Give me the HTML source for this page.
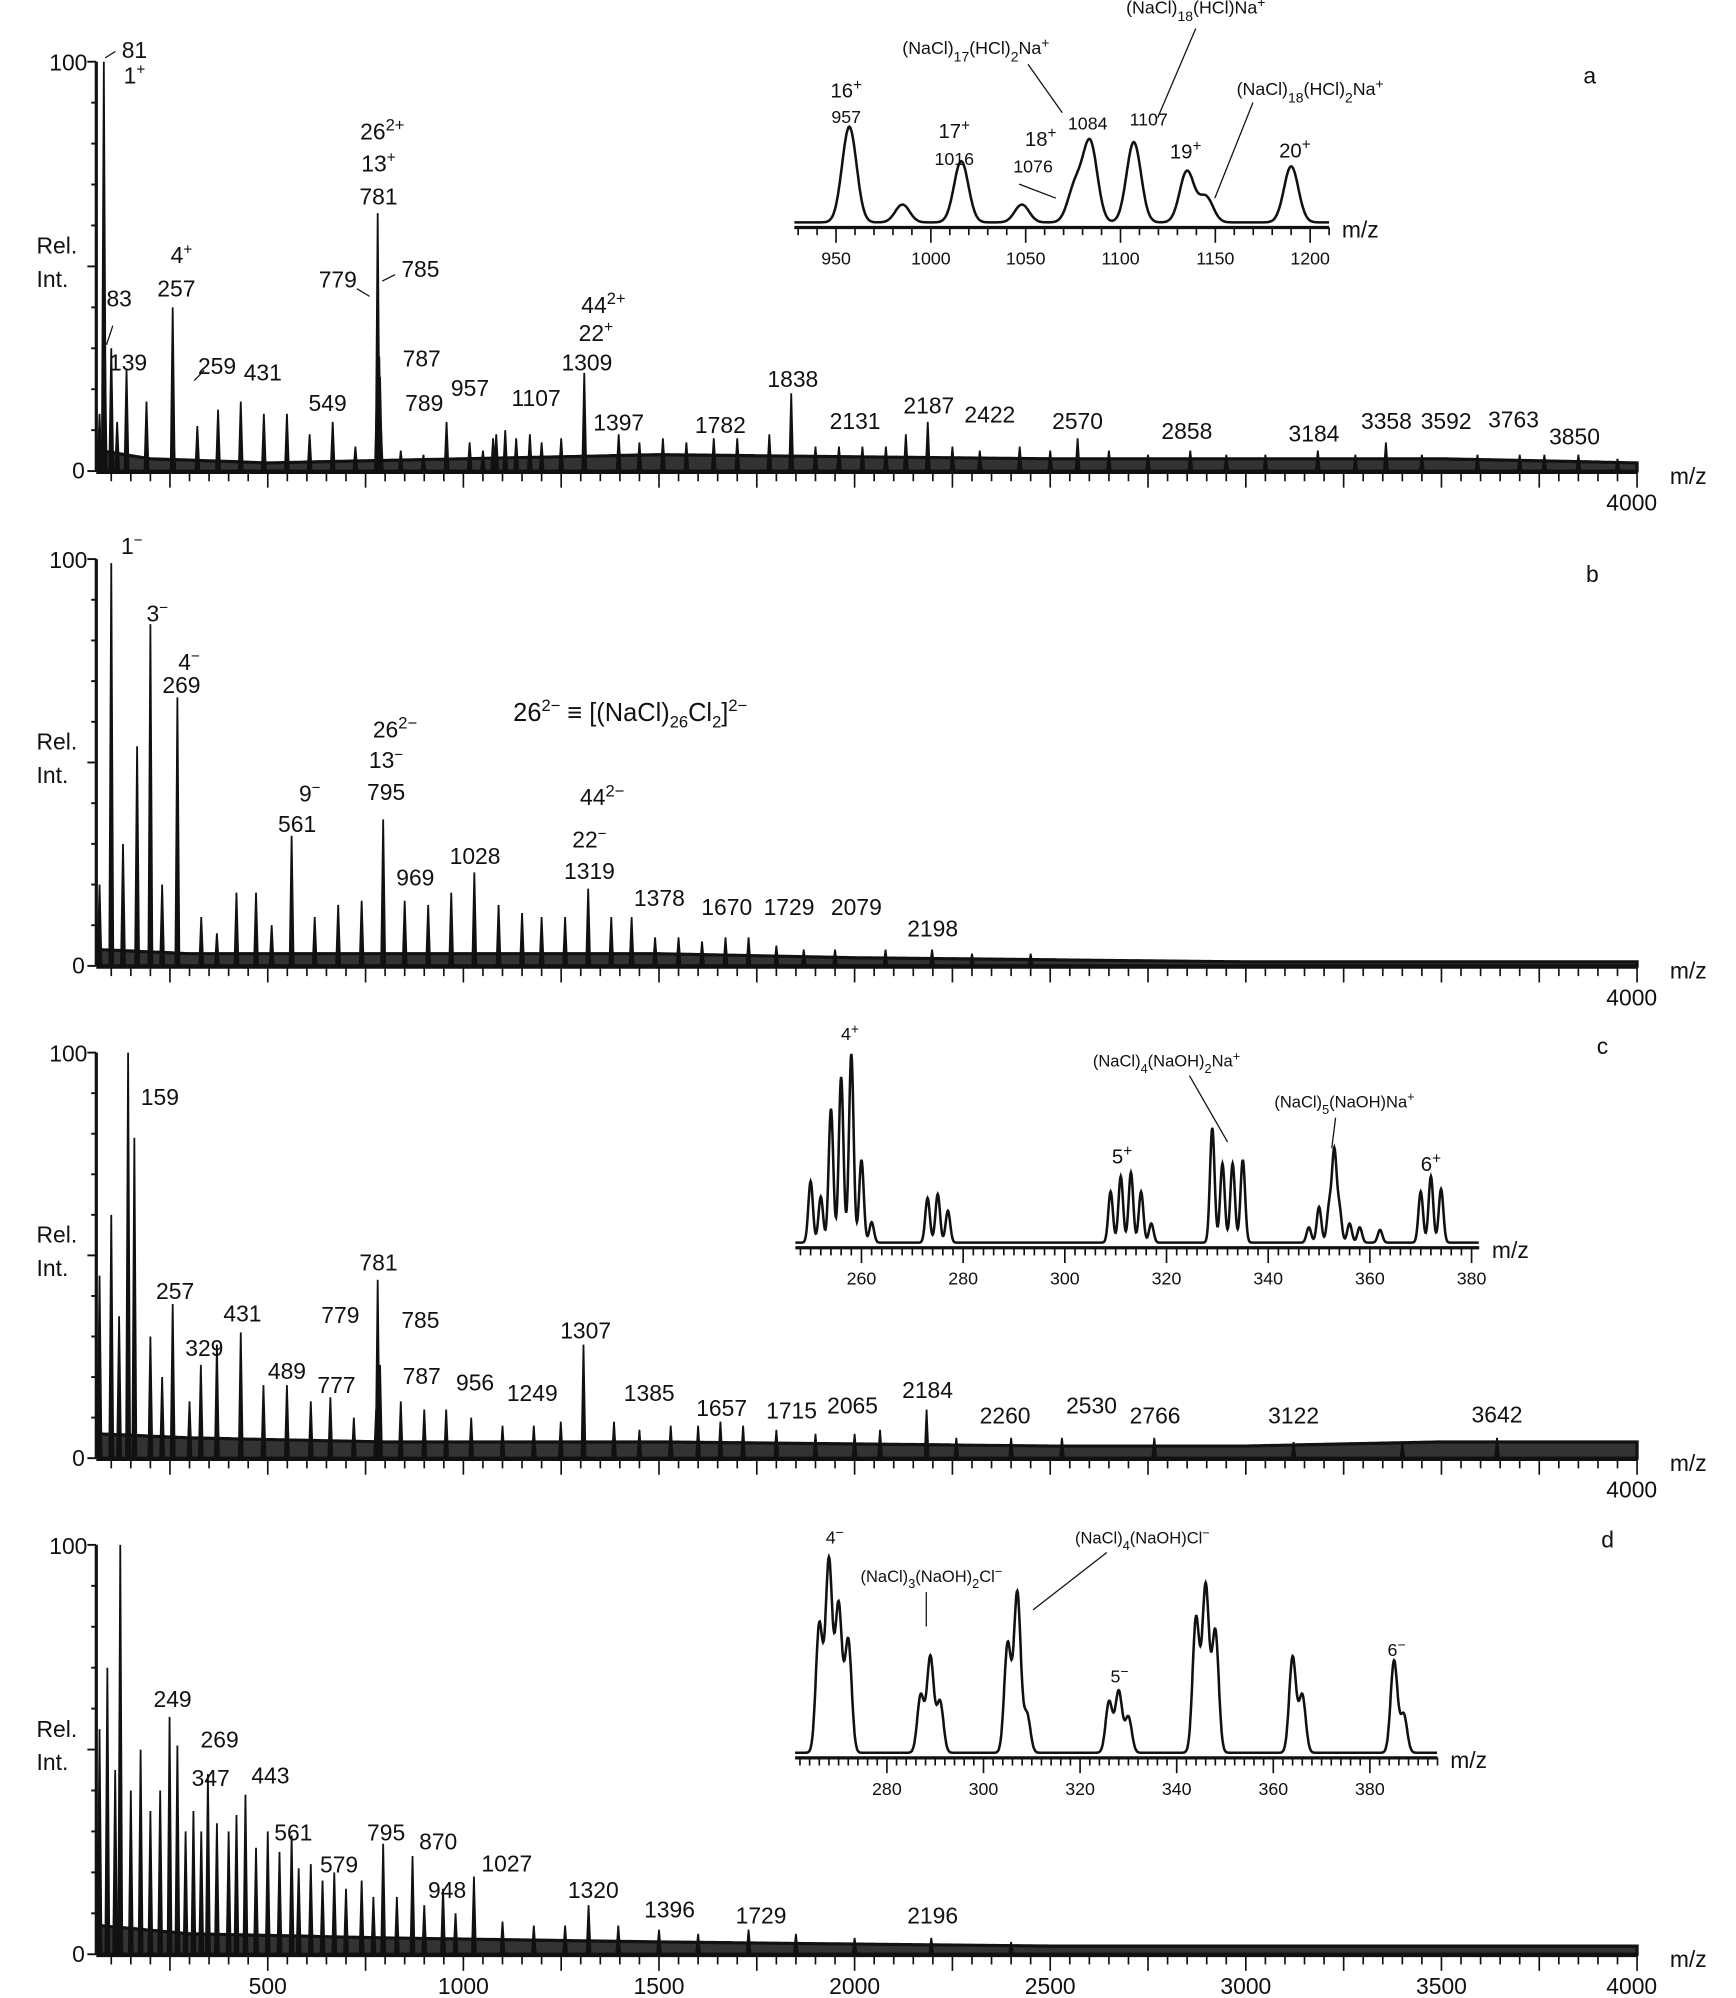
<!DOCTYPE html>
<html><head><meta charset="utf-8"><style>
html,body{margin:0;padding:0;background:#fff;}
svg{display:block;}
text{font-family:"Liberation Sans",Arial,sans-serif;fill:#111;}
</style></head><body>
<svg width="1736" height="1998" viewBox="0 0 1350 1554" xmlns="http://www.w3.org/2000/svg"><g id="chart" transform="translate(56,48) scale(0.9886,0.9919) translate(-56,-48)"></g></svg>
<script>
// ---- Panel a (positive) main spectrum ----
const aMz  = [70,81,83,100,115,139,190,257,259,320,373,431,490,549,607,666,724,779,781,785,787,789,840,898,957,1016,1050,1076,1084,1107,1135,1170,1200,1250,1309,1397,1450,1510,1570,1640,1700,1782,1838,1900,1960,2020,2080,2131,2187,2250,2320,2422,2500,2570,2650,2750,2858,2950,3050,3184,3280,3358,3450,3592,3700,3763,3850,3950];
const aInt = [14,100,37,30,12,25,17,40,8,11,15,17,14,14,9,12,6,20,63,28,23,12,5,4,12,7,5,8,9,10,8,9,7,8,24,9,7,8,7,8,8,9,19,6,6,6,6,9,12,6,5,6,5,8,5,4,5,4,4,5,4,7,4,4,4,4,4,3];
const aBaseMz  = [70,200,500,1000,1500,2000,2500,3000,3500,4000];
const aBaseInt = [5,3,2,3,4,3.5,3,3,3,2];
// ---- Panel b (negative) ----
const bMz  = [70,100,130,166,200,230,269,330,370,420,470,510,561,620,680,740,795,850,910,969,1028,1090,1150,1200,1260,1319,1378,1430,1490,1550,1610,1670,1729,1800,1870,1950,2079,2198,2300,2450];
const bInt = [20,99,30,54,84,20,66,12,8,18,18,10,32,12,15,16,36,16,15,18,23,15,13,12,12,19,12,12,7,7,6,7,7,5,4,4,4,4,3,3];
const bBaseMz  = [70,300,800,1500,2000,2500,3000,3500,4000];
const bBaseInt = [4,3,3,3,2,1.5,1,1,1];
// ---- Panel c (positive) ----
const cMz  = [70,100,120,143,159,200,230,257,300,329,370,431,489,549,610,660,720,777,781,785,787,840,900,956,1020,1100,1180,1249,1307,1385,1450,1530,1600,1657,1715,1800,1900,2000,2065,2184,2260,2400,2530,2766,3122,3400,3642];
const cInt = [45,60,35,100,79,30,20,38,14,23,28,31,18,18,14,15,10,12,44,20,23,14,12,12,10,8,8,9,28,9,7,8,8,9,8,7,6,6,7,12,5,5,5,5,4,4,5];
const cBaseMz  = [70,300,800,1500,2000,2500,3000,3500,4000];
const cBaseInt = [6,5,4,4,3.5,3,3,4,4];
// ---- Panel d (negative) ----
const dMz  = [70,90,110,123,150,175,200,225,249,269,290,310,330,347,370,400,420,443,470,500,530,561,579,610,640,670,700,740,770,795,830,870,900,948,980,1027,1100,1180,1260,1320,1396,1500,1600,1729,1850,2000,2196,2400];
const dInt = [55,70,45,100,40,50,35,40,58,51,30,35,30,44,32,30,34,39,26,30,25,29,21,22,18,20,16,18,14,27,14,24,12,16,10,19,8,7,7,12,7,6,5,6,5,4,4,3];
const dBaseMz  = [70,300,800,1500,2000,2500,3000,3500,4000];
const dBaseInt = [7,5,4,3,2.5,2,2,2,2];
// ---- Inset a (broad peaks) ----
const iaMz  = [957,985,1016,1048,1076,1084,1107,1135,1145,1190];
const iaInt = [75,14,48,14,28,62,63,40,20,44];
// ---- Inset c ----
const icMz  = [250,252,254,256,258,260,262,273,275,277,309,311,313,315,317,329,331,333,335,348,350,352,353,354,356,358,362,370,372,374];
const icInt = [48,36,105,130,148,65,16,35,38,25,40,52,55,40,15,90,62,62,65,12,28,28,70,26,15,12,10,40,52,42];
// ---- Inset d ----
const idMz  = [266,268,270,272,287,289,291,305,307,309,326,328,330,344,346,348,364,366,385,387];
const idInt = [100,150,115,88,45,75,40,85,125,30,40,48,28,105,130,95,75,45,72,30];

const SVGNS="http://www.w3.org/2000/svg";
const svg=document.getElementById('chart');
function el(tag,attrs,parent){const e=document.createElementNS(SVGNS,tag);for(const k in attrs)e.setAttribute(k,attrs[k]);(parent||svg).appendChild(e);return e;}
function txt(x,y,s,size,anchor,name,parent){const t=el('text',{x:x,y:y,'font-size':size||18,'text-anchor':anchor||'middle'},parent);t.innerHTML=s;


return t;}
function line(x1,y1,x2,y2,w,parent){return el('line',{x1:x1,y1:y1,x2:x2,y2:y2,stroke:'#111','stroke-width':w||1},parent);}
const xOf=mz=>56+mz*0.3078;

function interp(xs,ys,x){if(x<=xs[0])return ys[0];for(let i=1;i<xs.length;i++){if(x<=xs[i]){const t=(x-xs[i-1])/(xs[i]-xs[i-1]);return ys[i-1]+t*(ys[i]-ys[i-1]);}}return ys[ys.length-1];}

function panel(id,y0,y100,mz,inten,bmz,bint,xLabels){
  const g=el('g',{});
  
  
  const yOf=v=>y0-v/100*(y0-y100);
  const ya=line(75,y100,75,y0,2.5,g);
  
  
  for(let v=0;v<=100;v+=10){line(v%50===0?68:71,yOf(v),75,yOf(v),1.5,g);}
  const xa=line(75,y0+1,xOf(4000),y0+1,2.5,g);
  
  
  for(let m=100;m<=4000;m+=50){const big=m%250===0;line(xOf(m),y0+1,xOf(m),y0+(big?13:8),1.3,g);}
  txt(68,y100+7,'100',18,'end','y-tick-100',g);
  txt(66,y0+6,'0',18,'end','y-tick-0',g);
  txt(28,yOf(50)-10,'Rel.',18,'start','y-axis-title',g);
  txt(28,yOf(50)+16,'Int.',18,'start','y-axis-title',g);
  txt(1313,y0+10,'m/z',18,'start','x-axis-title',g);
  if(!xLabels) txt(1283,y0+31,'4000',18,'middle','x-tick-4000',g);
  let d='';
  for(let m=70;m<=4000;m+=10){const x=xOf(m),y=yOf(interp(bmz,bint,m));d+=(m===70?'M':'L')+x.toFixed(1)+' '+y.toFixed(1);}
  d+='L'+xOf(4000)+' '+y0+'L'+xOf(70)+' '+y0+'Z';
  const bl=el('path',{d:d,fill:'#333',stroke:'#111','stroke-width':2.5},g);
  
  
  for(let i=0;i<mz.length;i++){
    const x=xOf(mz[i]);
    const p=el('path',{d:'M'+(x-1.6)+' '+y0+'L'+x+' '+yOf(inten[i])+'L'+(x+1.6)+' '+y0+'Z',fill:'#111',stroke:'#111','stroke-width':1.4},g);
    
    
  }
  if(xLabels){const ticks=[500,1000,1500,2000,2500,3000,3500,4000];
    ticks.forEach(t=>txt(t===4000?1283:xOf(t),y0+31,String(t),18,'middle','x-tick-'+t,g));}
  return g;
}
panel('a',369,48,aMz,aInt,aBaseMz,aBaseInt,false);
panel('b',757,438,bMz,bInt,bBaseMz,bBaseInt,false);
panel('c',1143,825,cMz,cInt,cBaseMz,cBaseInt,false);
panel('d',1532,1211,dMz,dInt,dBaseMz,dBaseInt,true);

function inset(id,ax,x0,x1,m0,m1,lo,hi,mz,inten,sigma,ticks,minorStep,step){
  const g=el('g',{});
  
  
  const xo=m=>x0+(m-m0)/(m1-m0)*(x1-x0);
  line(xo(lo),ax,xo(hi),ax,2.5,g);
  for(let m=Math.ceil(lo/minorStep)*minorStep;m<=hi;m+=minorStep){const big=ticks.includes(m);line(xo(m),ax,xo(m),ax+(big?12:6),1.3,g);}
  ticks.forEach(t=>txt(xo(t),ax+29,String(t),14,'middle','inset-'+id+'-tick-'+t,g));
  txt(xo(hi)+10,ax+8,'m/z',18,'start','inset-'+id+'-x-title',g);
  let d='';
  for(let m=lo;m<=hi;m+=step){let v=4;for(let i=0;i<mz.length;i++){v+=inten[i]*Math.exp(-Math.pow((m-mz[i])/sigma,2)/2);}
    d+=(d?'L':'M')+xo(m).toFixed(1)+' '+(ax-v).toFixed(1);}
  const p=el('path',{d:d,fill:'none',stroke:'#111','stroke-width':2},g);
  
  
  return g;
}
inset('a',178,657,1030,950,1200,928,1210,iaMz,iaInt,3.8,[950,1000,1050,1100,1150,1200],10,0.5);
inset('c',978,677,1157,260,380,247,381.5,icMz,icInt,0.45,[260,280,300,320,340,360,380],2,0.1);
inset('d',1378,697,1077,280,380,261,394,idMz,idInt,0.7,[280,300,320,340,360,380],2,0.1);

// ---- annotations panel a ----
const A=[[105,45,'81'],[105,65,'1<tspan dy="-7" font-size="12">+</tspan>'],[93,240,'83'],[100,290,'139'],[142,206,'4<tspan dy="-7" font-size="12">+</tspan>'],[138,232,'257'],[170,293,'259'],[206,298,'431'],[257,322,'549'],
[300,109,'26<tspan dy="-7" font-size="13">2+</tspan>'],[297,134,'13<tspan dy="-7" font-size="12">+</tspan>'],[297,160,'781'],[265,225,'779'],[330,217,'785'],[331,287,'787'],[333,322,'789'],[369,310,'957'],[421,318,'1107'],
[474,245,'44<tspan dy="-7" font-size="13">2+</tspan>'],[468,267,'22<tspan dy="-7" font-size="12">+</tspan>'],[461,290,'1309'],[486,337,'1397'],[566,339,'1782'],[623,303,'1838'],[672,336,'2131'],[730,324,'2187'],[778,331,'2422'],[847,336,'2570'],[933,344,'2858'],[1033,346,'3184'],[1090,336,'3358'],[1137,336,'3592'],[1190,335,'3763'],[1238,348,'3850'],[1250,65,'a']];
A.forEach(a=>txt(a[0],a[1],a[2],18,'middle','peak-label-a'));
[[665,76,'16<tspan dy="-6" font-size="12">+</tspan>',16],[665,96,'957',14],[750,108,'17<tspan dy="-6" font-size="12">+</tspan>',16],[750,129,'1016',14],[818,114,'18<tspan dy="-6" font-size="12">+</tspan>',16],[812,135,'1076',14],[855,101,'1084',14],[903,98,'1107',14],[932,124,'19<tspan dy="-6" font-size="12">+</tspan>',16],[1018,123,'20<tspan dy="-6" font-size="12">+</tspan>',16],
[767,42,'(NaCl)<tspan dy="6" font-size="11">17</tspan><tspan dy="-6">(HCl)</tspan><tspan dy="6" font-size="11">2</tspan><tspan dy="-6">Na</tspan><tspan dy="-5" font-size="11">+</tspan>',14],
[940,10,'(NaCl)<tspan dy="6" font-size="11">18</tspan><tspan dy="-6">(HCl)Na</tspan><tspan dy="-5" font-size="11">+</tspan>',14],
[1030,74,'(NaCl)<tspan dy="6" font-size="11">18</tspan><tspan dy="-6">(HCl)</tspan><tspan dy="6" font-size="11">2</tspan><tspan dy="-6">Na</tspan><tspan dy="-5" font-size="11">+</tspan>',14]
].forEach(a=>txt(a[0],a[1],a[2],a[3],'middle','inset-a-label'));
line(808,50,835,88,1);line(940,22,910,92,1);line(985,80,955,155,1);line(801,144,830,155,1);
line(82,45,90,40,1);line(88,255,83,270,1);line(160,290,152,298,1);line(280,226,290,232,1);line(300,220,310,215,1);

// ---- panel b ----
[[103,434,'1<tspan dy="-7" font-size="12">−</tspan>'],[123,487,'3<tspan dy="-7" font-size="12">−</tspan>'],[148,525,'4<tspan dy="-7" font-size="12">−</tspan>'],[142,543,'269'],[243,628,'9<tspan dy="-7" font-size="12">−</tspan>'],[233,652,'561'],[310,578,'26<tspan dy="-7" font-size="13">2−</tspan>'],[303,602,'13<tspan dy="-7" font-size="12">−</tspan>'],[303,627,'795'],[326,694,'969'],[373,677,'1028'],[473,631,'44<tspan dy="-7" font-size="13">2−</tspan>'],[463,664,'22<tspan dy="-7" font-size="12">−</tspan>'],[463,689,'1319'],[518,710,'1378'],[571,717,'1670'],[620,717,'1729'],[673,717,'2079'],[733,734,'2198'],[1252,456,'b']].forEach(a=>txt(a[0],a[1],a[2],18,'middle','peak-label-b'));
txt(403,565,'26<tspan dy="-8" font-size="13">2−</tspan><tspan dy="8"> ≡ [(NaCl)</tspan><tspan dy="5" font-size="13">26</tspan><tspan dy="-5">Cl</tspan><tspan dy="5" font-size="13">2</tspan><tspan dy="-5">]</tspan><tspan dy="-8" font-size="13">2−</tspan>',20,'start','species-definition');

// ---- panel c ----
[[125,866,'159'],[137,1018,'257'],[160,1063,'329'],[190,1036,'431'],[225,1081,'489'],[267,1037,'779'],[330,1041,'785'],[297,996,'781'],[264,1092,'777'],[331,1085,'787'],[373,1090,'956'],[418,1098,'1249'],[460,1049,'1307'],[510,1098,'1385'],[567,1110,'1657'],[622,1112,'1715'],[670,1108,'2065'],[729,1096,'2184'],[790,1116,'2260'],[858,1108,'2530'],[908,1116,'2766'],[1017,1116,'3122'],[1177,1115,'3642'],[1260,826,'c']].forEach(a=>txt(a[0],a[1],a[2],18,'middle','peak-label-c'));
[[668,815,'4<tspan dy="-5" font-size="11">+</tspan>',14],[882,912,'5<tspan dy="-6" font-size="12">+</tspan>',16],[1125,918,'6<tspan dy="-6" font-size="12">+</tspan>',16],
[917,836,'(NaCl)<tspan dy="5" font-size="10">4</tspan><tspan dy="-5">(NaOH)</tspan><tspan dy="5" font-size="10">2</tspan><tspan dy="-5">Na</tspan><tspan dy="-5" font-size="10">+</tspan>',13],
[1057,868,'(NaCl)<tspan dy="5" font-size="10">5</tspan><tspan dy="-5">(NaOH)Na</tspan><tspan dy="-5" font-size="10">+</tspan>',13]].forEach(a=>txt(a[0],a[1],a[2],a[3],'middle','inset-c-label'));
line(935,843,965,895,1);line(1050,876,1047,900,1);

// ---- panel d ----
[[135,1338,'249'],[172,1370,'269'],[165,1400,'347'],[212,1398,'443'],[230,1443,'561'],[266,1468,'579'],[303,1443,'795'],[344,1450,'870'],[351,1488,'948'],[398,1467,'1027'],[466,1488,'1320'],[526,1503,'1396'],[598,1508,'1729'],[733,1508,'2196'],[1264,1213,'d']].forEach(a=>txt(a[0],a[1],a[2],18,'middle','peak-label-d'));
[[656,1210,'4<tspan dy="-5" font-size="11">−</tspan>',14],[880,1319,'5<tspan dy="-5" font-size="11">−</tspan>',14],[1098,1298,'6<tspan dy="-5" font-size="11">−</tspan>',14],
[732,1240,'(NaCl)<tspan dy="5" font-size="10">3</tspan><tspan dy="-5">(NaOH)</tspan><tspan dy="5" font-size="10">2</tspan><tspan dy="-5">Cl</tspan><tspan dy="-5" font-size="10">−</tspan>',13],
[898,1210,'(NaCl)<tspan dy="5" font-size="10">4</tspan><tspan dy="-5">(NaOH)Cl</tspan><tspan dy="-5" font-size="10">−</tspan>',13]].forEach(a=>txt(a[0],a[1],a[2],a[3],'middle','inset-d-label'));
line(728,1248,728,1275,1);line(870,1217,812,1262,1);
</script>
</body></html>
